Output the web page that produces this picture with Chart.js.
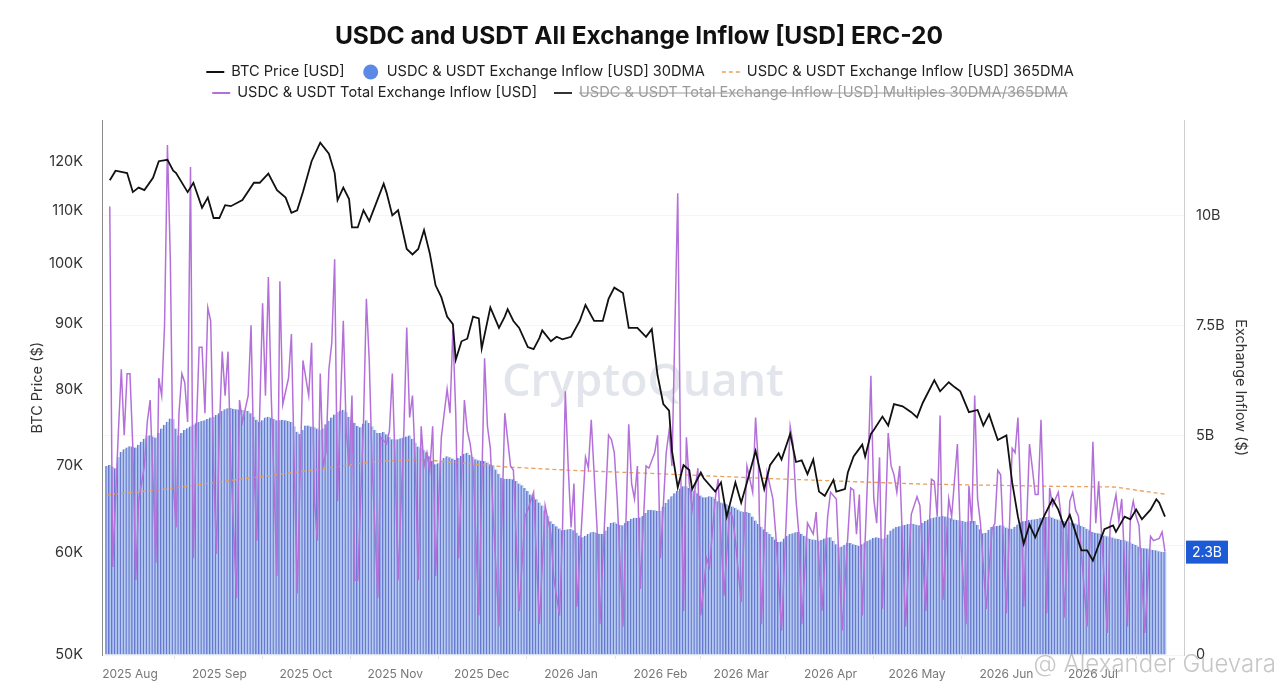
<!DOCTYPE html>
<html>
<head>
<meta charset="utf-8">
<title>USDC and USDT All Exchange Inflow [USD] ERC-20</title>
<script src="https://cdn.jsdelivr.net/npm/chart.js@4.4.1/dist/chart.umd.min.js"></script>
<style>
    html, body { margin: 0; padding: 0; background: #fff; }
    #wrap { width: 1280px; height: 685px; position: relative; }
</style>
</head>
<body>
<div id="wrap"><canvas id="chart"></canvas></div>
<script>
    // day 0 of every series
    var startDate = '2025-07-24';

    var tickDates = ['2025-08-01', '2025-09-01', '2025-10-01', '2025-11-01', '2025-12-01', '2026-01-01',
        '2026-02-01', '2026-03-01', '2026-04-01', '2026-05-01', '2026-06-01', '2026-07-01'];
    var tickLabels = ['2025 Aug', '2025 Sep', '2025 Oct', '2025 Nov', '2025 Dec', '2026 Jan',
        '2026 Feb', '2026 Mar', '2026 Apr', '2026 May', '2026 Jun', '2026 Jul'];

    var btcTicks = [50, 60, 70, 80, 90, 100, 110, 120];      // K USD
    var inflowTicks = [0, 2.5, 5, 7.5, 10];                 // B USD

    // BTC price, K USD (day offset / value)
    var btcDay = [1, 3, 7, 9, 11, 13, 16, 18, 21, 23, 24, 28, 30, 33, 35, 37, 39, 41, 43, 47, 51, 53, 56, 59, 62, 64, 66, 68, 71, 74,
        77, 79, 80, 82, 84, 85, 87, 89, 91, 94, 96, 97, 99, 101, 104, 106, 108, 110, 112, 114, 116, 118, 120, 121, 123, 125, 127, 129, 130, 133,
        136, 138, 139, 141, 143, 146, 148, 150, 151, 154, 156, 158, 161, 164, 166, 169, 172, 174, 176, 179, 181, 184, 187, 189, 191, 193, 195, 196, 198, 200,
        202, 203, 206, 207, 211, 213, 215, 218, 220, 222, 225, 228, 230, 233, 234, 237, 239, 241, 243, 245, 247, 249, 252, 253, 256, 257, 259, 262, 263, 265,
        266, 269, 271, 273, 276, 279, 281, 283, 287, 289, 292, 294, 296, 299, 302, 304, 306, 309, 312, 314, 316, 318, 320, 322, 325, 328, 330, 332, 334, 338,
        340, 342, 346, 349, 350, 353, 355, 357, 359, 362, 364, 365, 367];
    var btcPrice = [116.0, 118.0, 117.5, 113.6, 114.5, 114.0, 116.5, 120.0, 120.3, 118.0, 117.5, 113.6, 115.5, 110.5, 112.5, 108.5, 108.5, 111.0, 110.8, 112.0, 115.5, 115.5, 117.4, 114.0, 112.5, 109.5, 110.0, 113.6, 120.0, 124.0,
        121.6, 117.5, 112.0, 114.5, 112.2, 106.7, 106.7, 110.0, 107.9, 112.3, 115.3, 113.5, 109.0, 110.0, 102.7, 101.7, 102.7, 106.2, 101.9, 96.3, 94.3, 91.1, 89.9, 84.4, 87.2, 87.6, 91.1, 90.8, 86.1, 92.6,
        89.3, 91.1, 92.3, 90.4, 89.3, 86.3, 86.0, 87.7, 88.9, 87.2, 87.9, 87.5, 87.9, 90.4, 93.0, 90.4, 90.4, 94.0, 95.9, 95.0, 89.3, 89.3, 87.9, 89.1, 82.1, 78.0, 77.1, 71.8, 67.3, 70.0,
        69.4, 67.1, 69.1, 68.4, 66.8, 67.9, 63.9, 67.9, 65.5, 67.9, 71.8, 67.1, 70.0, 71.5, 70.7, 74.0, 70.4, 70.6, 68.9, 70.7, 66.8, 66.3, 68.2, 66.8, 67.1, 69.1, 71.1, 72.6, 71.1, 74.0,
        74.5, 76.3, 75.1, 78.0, 77.7, 76.9, 76.2, 78.2, 81.4, 79.8, 81.1, 80.4, 79.8, 76.9, 77.2, 75.1, 76.6, 73.2, 73.8, 67.9, 63.9, 60.9, 63.0, 61.6, 63.9, 65.9, 64.7, 62.8, 64.1, 60.2,
        60.2, 59.1, 62.5, 62.9, 62.2, 63.9, 63.6, 64.7, 63.6, 64.7, 65.9, 65.5, 63.9];

    // 30DMA inflow, B USD, one value per day from day 0
    var ma30 = [
        4.30, 4.32, 4.28, 4.25, 4.50, 4.62, 4.68, 4.72, 4.75, 4.74,
        4.72, 4.78, 4.85, 4.92, 4.98, 5.00, 4.97, 4.95, 5.05, 5.15,
        5.23, 5.30, 5.38, 5.36, 5.15, 4.99, 5.05, 5.12, 5.16, 5.20,
        5.24, 5.27, 5.30, 5.32, 5.34, 5.37, 5.40, 5.42, 5.46, 5.50,
        5.55, 5.59, 5.61, 5.62, 5.60, 5.59, 5.58, 5.57, 5.56, 5.55,
        5.50, 5.42, 5.35, 5.30, 5.34, 5.40, 5.42, 5.40, 5.37, 5.34,
        5.34, 5.35, 5.34, 5.32, 5.30, 5.20, 5.08, 5.03, 5.12, 5.22,
        5.22, 5.20, 5.18, 5.15, 5.11, 5.15, 5.25, 5.33, 5.40, 5.47,
        5.52, 5.55, 5.58, 5.52, 5.42, 5.34, 5.28, 5.21, 5.18, 5.26,
        5.34, 5.28, 5.20, 5.12, 5.05, 5.05, 5.07, 5.02, 4.96, 4.91,
        4.90, 4.91, 4.93, 4.95, 4.97, 4.99, 4.92, 4.83, 4.74, 4.70,
        4.66, 4.61, 4.52, 4.42, 4.34, 4.36, 4.42, 4.48, 4.52, 4.50,
        4.47, 4.44, 4.48, 4.53, 4.58, 4.60, 4.55, 4.50, 4.45, 4.43,
        4.42, 4.41, 4.38, 4.34, 4.31, 4.22, 4.12, 4.03, 4.01, 4.01,
        4.01, 4.00, 3.96, 3.90, 3.86, 3.80, 3.73, 3.65, 3.60, 3.54,
        3.47, 3.40, 3.28, 3.16, 3.04, 2.98, 2.93, 2.88, 2.84, 2.85,
        2.86, 2.87, 2.84, 2.78, 2.72, 2.68, 2.71, 2.75, 2.79, 2.80,
        2.78, 2.76, 2.75, 2.83, 2.92, 3.00, 3.02, 2.99, 2.96, 2.95,
        3.00, 3.05, 3.10, 3.12, 3.12, 3.13, 3.16, 3.23, 3.30, 3.30,
        3.29, 3.28, 3.28, 3.37, 3.46, 3.54, 3.61, 3.68, 3.73, 3.79,
        3.84, 3.83, 3.80, 3.76, 3.73, 3.68, 3.63, 3.59, 3.59, 3.61,
        3.60, 3.55, 3.50, 3.47, 3.45, 3.43, 3.40, 3.38, 3.35, 3.31,
        3.27, 3.26, 3.25, 3.23, 3.15, 3.06, 2.98, 2.92, 2.86, 2.80,
        2.75, 2.69, 2.63, 2.57, 2.58, 2.65, 2.71, 2.75, 2.77, 2.79,
        2.80, 2.76, 2.71, 2.66, 2.64, 2.63, 2.62, 2.60, 2.62, 2.65,
        2.67, 2.68, 2.60, 2.52, 2.45, 2.47, 2.51, 2.55, 2.55, 2.52,
        2.50, 2.48, 2.52, 2.56, 2.60, 2.63, 2.66, 2.68, 2.66, 2.64,
        2.66, 2.74, 2.83, 2.88, 2.91, 2.93, 2.95, 2.96, 2.98, 2.99,
        2.98, 2.96, 2.95, 3.00, 3.05, 3.08, 3.11, 3.13, 3.15, 3.15,
        3.16, 3.15, 3.13, 3.11, 3.08, 3.07, 3.06, 3.05, 3.03, 3.04,
        3.05, 3.05, 2.96, 2.86, 2.77, 2.78, 2.85, 2.91, 2.93, 2.94,
        2.95, 2.93, 2.90, 2.88, 2.87, 2.92, 2.97, 3.02, 3.04, 3.05,
        3.07, 3.08, 3.09, 3.10, 3.12, 3.13, 3.14, 3.15, 3.13, 3.10,
        3.08, 3.06, 3.05, 3.03, 3.02, 3.01, 2.99, 2.97, 2.94, 2.91,
        2.87, 2.84, 2.80, 2.78, 2.77, 2.75, 2.72, 2.70, 2.68, 2.67,
        2.65, 2.64, 2.62, 2.61, 2.59, 2.56, 2.53, 2.50, 2.47, 2.44,
        2.43, 2.42, 2.40, 2.39, 2.38, 2.36, 2.35, 2.34
    ];

    // 365DMA inflow, B USD
    var ma365Day = [0, 20, 44, 67, 94, 110, 138, 161, 189, 231, 282, 325, 350, 359, 367];
    var ma365Val = [3.64, 3.77, 3.98, 4.17, 4.41, 4.44, 4.28, 4.20, 4.13, 4.01, 3.89, 3.84, 3.82, 3.73, 3.66];

    // total daily inflow, B USD
    var flowDay = [1, 2, 4, 5, 6, 7, 8, 9, 10, 11, 13, 14, 15, 17, 18, 19, 20, 21, 22, 23, 24, 25, 26, 27, 28, 29, 30, 31, 32, 33,
        34, 35, 36, 37, 38, 39, 40, 41, 42, 43, 45, 46, 47, 49, 50, 51, 52, 53, 54, 55, 56, 57, 59, 60, 61, 63, 64, 65, 66, 68,
        70, 71, 72, 73, 74, 75, 76, 77, 78, 79, 80, 81, 82, 83, 84, 85, 86, 87, 89, 90, 91, 92, 94, 95, 97, 98, 99, 100, 101, 103,
        104, 105, 106, 107, 108, 109, 110, 111, 112, 113, 114, 116, 118, 119, 120, 121, 122, 124, 125, 126, 127, 129, 131, 132, 133, 134, 136, 138, 140, 141,
        143, 145, 146, 148, 150, 152, 154, 155, 157, 158, 159, 160, 161, 162, 163, 166, 167, 168, 170, 171, 174, 175, 176, 177, 179, 181, 182, 183, 184, 185,
        187, 188, 190, 191, 192, 194, 195, 196, 198, 199, 200, 201, 202, 203, 205, 206, 208, 209, 211, 212, 214, 216, 217, 218, 220, 222, 224, 225, 226, 227,
        229, 231, 232, 234, 237, 238, 239, 240, 241, 243, 245, 246, 248, 250, 251, 253, 255, 258, 259, 260, 261, 262, 264, 265, 266, 267, 268, 269, 271, 272,
        273, 274, 275, 277, 279, 281, 282, 284, 286, 287, 288, 289, 290, 292, 293, 295, 296, 298, 299, 300, 301, 302, 303, 305, 307, 308, 309, 310, 312, 314,
        315, 316, 317, 318, 320, 321, 322, 323, 324, 325, 326, 327, 328, 330, 331, 332, 334, 335, 336, 337, 340, 342, 343, 344, 345, 347, 348, 350, 351, 352,
        354, 355, 356, 357, 358, 360, 362, 363, 365, 366, 367];
    var flowVal = [10.2, 2.0, 5.1, 6.5, 5.0, 6.4, 6.4, 4.7, 1.7, 3.5, 4.3, 5.3, 5.8, 2.1, 6.3, 5.9, 7.5, 11.6, 9.0, 3.9, 2.9, 5.5, 6.4, 6.2, 5.3, 11.1, 2.2, 5.1, 7.0, 7.0,
        5.5, 7.9, 7.6, 4.3, 2.3, 5.1, 6.9, 5.9, 6.9, 4.3, 1.3, 5.8, 5.3, 5.9, 7.5, 4.3, 2.6, 5.5, 8.0, 5.9, 8.6, 5.9, 1.8, 8.5, 5.7, 6.3, 7.3, 4.3, 1.4, 6.7,
        5.9, 7.1, 3.5, 2.6, 6.4, 4.3, 4.6, 6.5, 7.1, 9.0, 3.5, 5.7, 7.6, 5.1, 4.3, 5.9, 1.7, 1.7, 5.3, 8.1, 6.7, 4.3, 1.3, 4.95, 4.8, 5.1, 6.4, 4.3, 1.7, 5.1,
        7.45, 5.4, 5.9, 4.3, 1.7, 5.2, 4.3, 4.6, 4.2, 5.2, 1.8, 4.95, 6.05, 5.5, 7.4, 5.5, 2.2, 5.8, 5.1, 4.8, 4.3, 0.9, 6.75, 5.2, 4.7, 3.15, 0.65, 5.5, 4.3, 4.2,
        1.0, 3.15, 3.3, 3.7, 0.7, 3.4, 2.75, 1.75, 0.9, 2.75, 6.0, 4.3, 2.9, 3.9, 1.1, 4.5, 4.25, 5.35, 2.9, 0.7, 5.0, 4.9, 4.6, 3.55, 0.65, 5.25, 3.9, 3.55, 4.3, 1.5,
        4.3, 4.25, 4.6, 5.0, 2.2, 4.6, 5.1, 4.3, 10.5, 4.3, 1.0, 4.95, 3.9, 3.3, 4.25, 0.9, 2.2, 2.0, 3.55, 4.0, 1.35, 3.25, 3.15, 2.6, 1.2, 4.3, 3.7, 5.4, 4.3, 0.7,
        4.15, 3.55, 2.75, 0.55, 5.2, 4.8, 3.55, 2.75, 0.7, 3.0, 2.75, 3.25, 1.0, 3.15, 3.7, 3.55, 0.55, 3.8, 3.75, 2.75, 3.65, 0.9, 4.3, 6.35, 3.55, 3.0, 4.5, 1.05, 5.05, 4.3,
        4.1, 3.7, 4.3, 0.65, 3.2, 3.6, 3.4, 1.0, 4.0, 3.95, 3.15, 5.45, 1.25, 3.55, 3.15, 4.8, 2.75, 0.7, 3.85, 3.0, 5.9, 3.55, 3.0, 1.05, 2.85, 3.0, 4.2, 4.1, 0.95, 4.7,
        4.6, 5.4, 3.55, 1.1, 4.8, 4.25, 3.65, 3.65, 5.35, 3.15, 0.95, 3.8, 3.4, 3.7, 3.15, 0.85, 3.5, 3.7, 3.3, 3.15, 0.65, 4.85, 3.0, 3.95, 2.75, 0.5, 3.0, 3.65, 3.05, 3.55,
        0.65, 3.15, 3.5, 3.15, 2.95, 0.5, 2.7, 2.6, 2.65, 2.8, 2.35];

    var FONT = 'Inter, "Helvetica Neue", Arial, sans-serif';
    Chart.defaults.font.family = FONT;
    Chart.defaults.color = '#333';

    var lastInflow = ma30[ma30.length - 1];

    function dayOf(s) {
        return (Date.parse(s) - Date.parse(startDate)) / 86400000;
    }

    function pairs(xs, ys, k) {
        var ret = [];
        for (var i = 0; i < xs.length; i++) {
            ret.push({ x: xs[i], y: ys[i] * k });
        }
        return ret;
    }

    function daily(vals) {
        var ret = [];
        for (var i = 0; i < vals.length; i++) {
            ret.push({ x: i, y: vals[i] });
        }
        return ret;
    }

    // legend drawn by hand: two centred rows like the original
    var legendRows = [[0, 1, 2], [3, 4]];
    var legendPlugin = {
        id: 'topLegend',
        afterDraw: function (chart) {
            var ctx = chart.ctx;
            var sets = chart.data.datasets;
            ctx.save();
            ctx.font = '14.6px ' + FONT;
            ctx.textBaseline = 'middle';
            legendRows.forEach(function (row, r) {
                var y = 72 + r * 21;
                var widths = row.map(function (i) { return 25 + ctx.measureText(sets[i].label).width; });
                var total = widths.reduce(function (a, b) { return a + b; }, 0) + 17 * (row.length - 1);
                var x = (chart.width - total) / 2;
                row.forEach(function (i, k) {
                    var ds = sets[i];
                    var hidden = !chart.isDatasetVisible(i);
                    if (ds.type === 'bar') {
                        ctx.fillStyle = ds.legendColor;
                        ctx.beginPath();
                        ctx.arc(x + 9, y, 7.5, 0, Math.PI * 2);
                        ctx.fill();
                    } else {
                        ctx.strokeStyle = ds.borderColor;
                        ctx.lineWidth = ds.borderDash ? 1.5 : 2;
                        ctx.setLineDash(ds.borderDash || []);
                        ctx.beginPath();
                        ctx.moveTo(x, y);
                        ctx.lineTo(x + 18, y);
                        ctx.stroke();
                        ctx.setLineDash([]);
                    }
                    ctx.fillStyle = hidden ? '#9a9a9a' : '#222';
                    ctx.fillText(ds.label, x + 25, y);
                    if (hidden) {
                        ctx.strokeStyle = '#9a9a9a';
                        ctx.lineWidth = 1;
                        ctx.beginPath();
                        ctx.moveTo(x + 25, y);
                        ctx.lineTo(x + widths[k], y);
                        ctx.stroke();
                    }
                    x += widths[k] + 17;
                });
            });
            ctx.restore();
        }
    };

    var marksPlugin = {
        id: 'marks',
        beforeDatasetsDraw: function (chart) {
            var ctx = chart.ctx;
            var a = chart.chartArea;
            ctx.save();
            ctx.font = '600 45px "Open Sans", ' + FONT;
            ctx.fillStyle = '#e3e5ec';
            ctx.textAlign = 'center';
            ctx.textBaseline = 'middle';
            ctx.fillText('CryptoQuant', 643, a.top + 263);
            ctx.restore();
        },
        afterDraw: function (chart) {
            var ctx = chart.ctx;
            var a = chart.chartArea;
            var y = chart.scales.yInf.getPixelForValue(lastInflow);
            ctx.save();
            // last value box on the right axis
            ctx.fillStyle = '#1d5bd6';
            ctx.fillRect(a.right + 2, y - 11.5, 42, 23);
            ctx.fillStyle = '#fff';
            ctx.font = '14px ' + FONT;
            ctx.textAlign = 'center';
            ctx.textBaseline = 'middle';
            ctx.fillText(lastInflow.toFixed(1) + 'B', a.right + 23, y + 0.5);
            // author watermark
            ctx.font = '300 24px ' + FONT;
            ctx.textAlign = 'right';
            ctx.textBaseline = 'alphabetic';
            ctx.fillStyle = 'rgba(160,160,160,0.6)';
            ctx.fillText('@ Alexander Guevara', 1276, 672);
            ctx.restore();
        }
    };

    var ctx = document.getElementById('chart').getContext('2d');
    var chart = new Chart(ctx, {
        data: {
            datasets: [
                {
                    type: 'line',
                    label: 'BTC Price [USD]',
                    data: pairs(btcDay, btcPrice, 1000),
                    yAxisID: 'yBtc',
                    borderColor: '#111',
                    borderWidth: 1.8,
                    pointRadius: 0,
                    tension: 0,
                    order: 0
                },
                {
                    type: 'bar',
                    label: 'USDC & USDT Exchange Inflow [USD] 30DMA',
                    data: daily(ma30),
                    yAxisID: 'yInf',
                    // pale fill with a darker left edge gives the striped look of the original
                    backgroundColor: '#b3cbf1',
                    borderColor: '#6878cf',
                    borderWidth: { left: 1.5, right: 0, top: 0, bottom: 0 },
                    borderSkipped: false,
                    legendColor: '#5b8ae6',
                    barPercentage: 1,
                    categoryPercentage: 1,
                    order: 3
                },
                {
                    type: 'line',
                    label: 'USDC & USDT Exchange Inflow [USD] 365DMA',
                    data: pairs(ma365Day, ma365Val, 1),
                    yAxisID: 'yInf',
                    borderColor: '#e8a05c',
                    borderWidth: 1.3,
                    borderDash: [4, 3],
                    pointRadius: 0,
                    order: 2
                },
                {
                    type: 'line',
                    label: 'USDC & USDT Total Exchange Inflow [USD]',
                    data: pairs(flowDay, flowVal, 1),
                    yAxisID: 'yInf',
                    borderColor: '#b470d9',
                    borderWidth: 1.5,
                    pointRadius: 0,
                    order: 1
                },
                {
                    type: 'line',
                    label: 'USDC & USDT Total Exchange Inflow [USD] Multiples 30DMA/365DMA',
                    data: [],
                    yAxisID: 'yInf',
                    borderColor: '#333',
                    borderWidth: 1.5,
                    hidden: true,
                    order: 4
                }
            ]
        },
        options: {
            responsive: true,
            maintainAspectRatio: false,
            animation: false,
            layout: { padding: { left: 25, right: 27, top: 0, bottom: 2.5 } },
            plugins: {
                legend: { display: false },
                tooltip: { enabled: false },
                title: {
                    display: true,
                    text: 'USDC and USDT All Exchange Inflow [USD] ERC-20',
                    color: '#111',
                    font: { size: 24.5, weight: 'bold' },
                    padding: { top: 22, bottom: 69 }
                }
            },
            scales: {
                x: {
                    type: 'linear',
                    offset: false,
                    min: -1.7,
                    max: 373.6,
                    afterBuildTicks: function (scale) {
                        scale.ticks = tickDates.map(function (d) { return { value: dayOf(d) }; });
                    },
                    afterFit: function (scale) { scale.height = 27.5; },
                    ticks: {
                        autoSkip: false,
                        maxRotation: 0,
                        padding: 8,
                        color: '#777',
                        font: { size: 12 },
                        callback: function (v, i) { return tickLabels[i]; }
                    },
                    grid: { display: true, drawOnChartArea: false, drawTicks: true, tickLength: 4, color: '#e6e6e6' },
                    border: { display: false }
                },
                yBtc: {
                    type: 'logarithmic',
                    position: 'left',
                    min: 50000,
                    max: 129000,
                    afterBuildTicks: function (scale) {
                        scale.ticks = btcTicks.map(function (v) { return { value: v * 1000 }; });
                    },
                    afterFit: function (scale) { scale.width = 77; },
                    ticks: {
                        padding: 11,
                        color: '#333',
                        font: { size: 14.5 },
                        callback: function (v) { return (v / 1000) + 'K'; }
                    },
                    grid: { display: false },
                    border: { display: true, color: '#8a8a8a', width: 1 },
                    title: { display: true, text: 'BTC Price ($)', color: '#333', font: { size: 14.5 } }
                },
                yInf: {
                    type: 'linear',
                    position: 'right',
                    min: 0,
                    max: 12.16,
                    afterBuildTicks: function (scale) {
                        scale.ticks = inflowTicks.map(function (v) { return { value: v }; });
                    },
                    afterFit: function (scale) { scale.width = 69; },
                    ticks: {
                        padding: 12,
                        color: '#333',
                        font: { size: 14.5 },
                        // the last-value box sits over the neighbouring tick label
                        callback: function (v) {
                            if (Math.abs(v - lastInflow) < 0.4) return '';
                            return v === 0 ? '0' : v + 'B';
                        }
                    },
                    grid: { color: '#f5f5f5', drawTicks: false },
                    border: { display: true, color: '#cfcfcf', width: 1 },
                    title: { display: true, text: 'Exchange Inflow ($)', color: '#333', font: { size: 14.5 } }
                }
            }
        },
        plugins: [legendPlugin, marksPlugin]
    });
</script>
</body>
</html>
